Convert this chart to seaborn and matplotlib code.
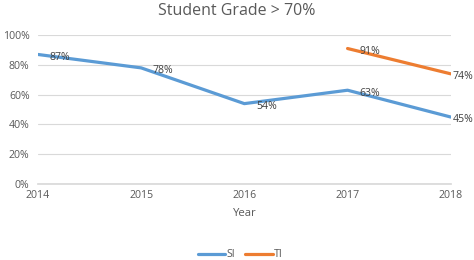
import numpy as np
import pandas as pd
import seaborn as sns
import matplotlib.pyplot as plt
from matplotlib.ticker import PercentFormatter

years = [2014, 2015, 2016, 2017, 2018]
si_values = [0.87, 0.78, 0.54, 0.63, 0.45]
ti_values = [np.nan, np.nan, np.nan, 0.91, 0.74]
series_names = ['SI', 'TI']
y_ticks = [0, 0.2, 0.4, 0.6, 0.8, 1.0]

df = pd.DataFrame({
    'Year': years * 2,
    'value': si_values + ti_values,
    'series': ['SI'] * len(years) + ['TI'] * len(years),
})

sns.set_theme(style='white')
plt.rcParams['font.family'] = ['Open Sans', 'DejaVu Sans']
grey = '#595959'
palette = {'SI': '#5B9BD5', 'TI': '#ED7D31'}

fig = plt.figure(figsize=(4.74, 2.6), dpi=100)
ax = fig.add_axes([0.080, 0.292, 0.871, 0.573])
sns.lineplot(data=df.dropna(), x='Year', y='value', hue='series', hue_order=series_names,
             palette=palette, linewidth=2.3, ax=ax, legend=True)

# data labels to the right of each point (last ones pulled in tight, like Excel)
for name, vals in [('SI', si_values), ('TI', ti_values)]:
    for x, v in zip(years, vals):
        if np.isnan(v):
            continue
        dx = 1.5 if x == years[-1] else 8.5
        ax.annotate(f'{v * 100:.0f}%', (x, v), xytext=(dx, -2), textcoords='offset points',
                    ha='left', va='center', fontsize=7.6, color='#404040')

ax.set_xlim(years[0], years[-1])
ax.set_ylim(0, 1)
ax.set_xticks(years)
ax.set_yticks(y_ticks)
ax.yaxis.set_major_formatter(PercentFormatter(1.0, decimals=0))
ax.grid(axis='y', color='#D9D9D9', linewidth=0.8)
ax.tick_params(axis='both', length=0, labelsize=7.6, labelcolor=grey)
ax.tick_params(axis='x', pad=4)
ax.tick_params(axis='y', pad=6)
for s in ax.spines.values():
    s.set_visible(False)
ax.spines['bottom'].set_visible(True)
ax.spines['bottom'].set_color('#D9D9D9')

ax.set_xlabel('Year', fontsize=8.2, color=grey, labelpad=5)
ax.set_ylabel('')
fig.suptitle('Student Grade > 70%', fontsize=11.5, color=grey, y=0.99)

handles, labels = ax.get_legend_handles_labels()
ax.legend(handles, labels, loc='center', bbox_to_anchor=(0.49, -0.475), ncol=2, frameon=False,
          fontsize=7.6, handlelength=2.6, handletextpad=0.1, columnspacing=1.0,
          labelcolor=grey)

fig.savefig('out.png', dpi=100)
